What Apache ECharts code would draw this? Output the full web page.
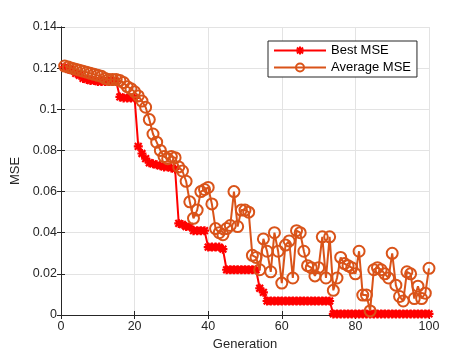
<!DOCTYPE html>
<html>
<head>
<meta charset="utf-8">
<script src="https://cdn.jsdelivr.net/npm/echarts@6/dist/echarts.min.js"></script>
<style>
html,body{margin:0;padding:0;background:#fff;}
#chart{width:474px;height:356px;}
</style>
</head>
<body>
<div id="chart"></div>
<script>
const generations = Array.from({length: 100}, (_, i) => i + 1);
const bestMSE = [
  0.1205,0.1195,0.119,0.1175,0.1165,0.115,0.1145,0.114,0.114,0.1135,
  0.1135,0.1135,0.1135,0.1135,0.1135,0.106,0.1055,0.1055,0.1055,0.1055,
  0.082,0.0785,0.076,0.074,0.0735,0.073,0.0725,0.072,0.072,0.0715,
  0.071,0.0445,0.044,0.043,0.043,0.041,0.041,0.041,0.041,0.033,
  0.033,0.033,0.033,0.032,0.022,0.022,0.022,0.022,0.022,0.022,
  0.022,0.022,0.022,0.013,0.011,0.0068,0.0068,0.0068,0.0068,0.0068,
  0.0068,0.0068,0.0068,0.0068,0.0068,0.0068,0.0068,0.0068,0.0068,0.0068,
  0.0068,0.0068,0.0068,0.0005,0.0005,0.0005,0.0005,0.0005,0.0005,0.0005,
  0.0005,0.0005,0.0005,0.0005,0.0005,0.0005,0.0005,0.0005,0.0005,0.0005,
  0.0005,0.0005,0.0005,0.0005,0.0005,0.0005,0.0005,0.0005,0.0005,0.0005
];
const averageMSE = [
  0.121,0.1205,0.12,0.1195,0.119,0.1185,0.118,0.1175,0.117,0.1165,
  0.116,0.115,0.1145,0.1145,0.1145,0.114,0.113,0.111,0.110,0.1085,
  0.1065,0.104,0.101,0.095,0.088,0.084,0.080,0.077,0.076,0.077,
  0.0765,0.072,0.070,0.065,0.055,0.047,0.051,0.060,0.061,0.062,
  0.054,0.042,0.040,0.039,0.042,0.0435,0.060,0.043,0.051,0.051,
  0.050,0.029,0.028,0.022,0.037,0.031,0.021,0.040,0.031,0.0155,
  0.034,0.036,0.018,0.041,0.040,0.031,0.024,0.023,0.019,0.023,
  0.038,0.018,0.038,0.012,0.018,0.028,0.025,0.024,0.023,0.020,
  0.031,0.0097,0.0097,0.002,0.022,0.023,0.022,0.020,0.018,0.030,
  0.0145,0.009,0.0068,0.021,0.020,0.008,0.014,0.008,0.0106,0.0227
];
const xTicks = [0, 20, 40, 60, 80, 100];
const yTicks = [0, 0.02, 0.04, 0.06, 0.08, 0.1, 0.12, 0.14];

const axisColor = '#262626';
const fontFam = '"Liberation Sans", Arial, sans-serif';
const asterisk = 'path://M0,-10L0,10M-10,0L10,0M-7.5,-7.5L7.5,7.5M-7.5,7.5L7.5,-7.5';

const chart = echarts.init(document.getElementById('chart'), null, {renderer: 'canvas'});
const commonAxis = {
  axisLine: {show: true, lineStyle: {color: axisColor, width: 1}},
  axisTick: {show: true, inside: true, length: 4, lineStyle: {color: axisColor}},
};
chart.setOption({
  animation: false,
  backgroundColor: '#fff',
  grid: {left: 61, right: 45, top: 27, bottom: 39, containLabel: false},
  legend: {
    left: 268, top: 41,
    orient: 'vertical',
    backgroundColor: '#fff',
    borderColor: axisColor,
    borderWidth: 1,
    padding: [3, 6, 3, 5],
    itemGap: 4,
    itemWidth: 52,
    itemHeight: 10,
    textStyle: {fontFamily: fontFam, fontSize: 13, color: '#000'},
    data: ['Best MSE', 'Average MSE']
  },
  xAxis: [{
    type: 'value', min: xTicks[0], max: xTicks[xTicks.length - 1], interval: 20,
    position: 'bottom',
    name: 'Generation', nameLocation: 'middle', nameGap: 23,
    nameTextStyle: {fontFamily: fontFam, fontSize: 13, color: axisColor},
    axisLabel: {fontFamily: fontFam, fontSize: 12.5, color: axisColor, margin: 5},
    splitLine: {show: true, lineStyle: {color: '#e3e3e3', width: 1}},
    ...commonAxis
  }, {
    type: 'value', min: xTicks[0], max: xTicks[xTicks.length - 1], interval: 20,
    position: 'top', axisLabel: {show: false}, splitLine: {show: false},
    ...commonAxis
  }],
  yAxis: [{
    type: 'value', min: yTicks[0], max: yTicks[yTicks.length - 1], interval: 0.02,
    position: 'left',
    name: 'MSE', nameLocation: 'middle', nameGap: 36,
    nameTextStyle: {fontFamily: fontFam, fontSize: 13, color: axisColor},
    axisLabel: {fontFamily: fontFam, fontSize: 12.5, color: axisColor, margin: 4,
      formatter: v => String(parseFloat(v.toFixed(4)))},
    splitLine: {show: true, lineStyle: {color: '#e3e3e3', width: 1}},
    ...commonAxis
  }, {
    type: 'value', min: yTicks[0], max: yTicks[yTicks.length - 1], interval: 0.02,
    position: 'right', axisLabel: {show: false}, splitLine: {show: false},
    ...commonAxis
  }],
  series: [{
    name: 'Best MSE',
    type: 'line',
    data: generations.map((g, i) => [g, bestMSE[i]]),
    symbol: asterisk,
    symbolSize: 9,
    showAllSymbol: true,
    lineStyle: {color: '#ff0000', width: 2},
    itemStyle: {color: '#ff0000', borderColor: '#ff0000', borderWidth: 2.2},
    emphasis: {disabled: true},
    z: 2
  }, {
    name: 'Average MSE',
    type: 'line',
    data: generations.map((g, i) => [g, averageMSE[i]]),
    symbol: 'circle',
    symbolSize: 11,
    showAllSymbol: true,
    lineStyle: {color: '#d95319', width: 2},
    itemStyle: {color: 'rgba(255,255,255,0)', borderColor: '#d95319', borderWidth: 2},
    emphasis: {disabled: true},
    z: 3
  }]
});
</script>
</body>
</html>
